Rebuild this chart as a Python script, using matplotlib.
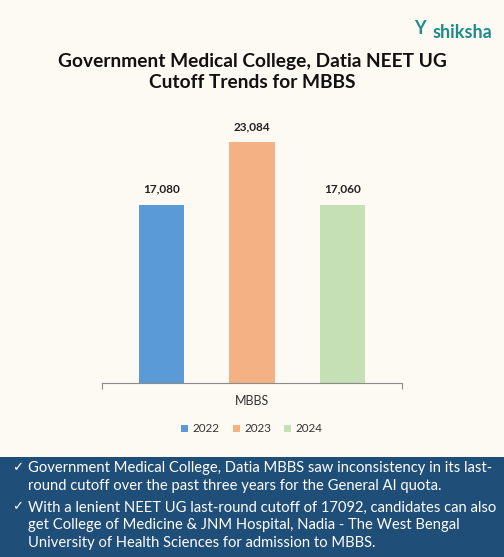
import matplotlib.pyplot as plt
from matplotlib.patches import Rectangle

plt.rcParams['font.family'] = ['Lato', 'DejaVu Sans']

jahre = ['2022', '2023', '2024']
cutoffs = [17080, 23084, 17060]
farben = ['#5B9BD5', '#F4B183', '#C5E0B4']
kategorie = 'MBBS'
titel = 'Government Medical College, Datia NEET UG\nCutoff Trends for MBBS'
hinweise = [
    'Government Medical College, Datia MBBS saw inconsistency in its last-\nround cutoff over the past three years for the General AI quota.',
    'With a lenient NEET UG last-round cutoff of 17092, candidates can also\nget College of Medicine & JNM Hospital, Nadia - The West Bengal\nUniversity of Health Sciences for admission to MBBS.',
]

hintergrund = '#FDF9F3'
fig = plt.figure(figsize=(5.04, 5.57), dpi=100, facecolor=hintergrund)

# Titel
fig.text(0.5, 1 - 72 / 557, titel, ha='center', va='center', fontsize=13.8,
         fontweight='bold', color='#111111', linespacing=1.35)

# Logo (vereinfacht)
fig.text(462 / 504, 1 - 32 / 557, 'shiksha', ha='center', va='center', fontsize=13,
         color='#1F8C8C', fontweight='bold')
fig.text(420 / 504, 1 - 28 / 557, 'Y', ha='center', va='center', fontsize=13,
         color='#1F8C8C', fontweight='bold')

ax = fig.add_axes([102 / 504, 1 - 383 / 557, 300 / 504, 273 / 557])
ax.set_facecolor(hintergrund)
positionen = range(len(cutoffs))
balken = ax.bar(positionen, cutoffs, width=0.5, color=farben, label=jahre)
for b, wert in zip(balken, cutoffs):
    ax.text(b.get_x() + b.get_width() / 2, wert + 1000, f'{wert:,}', ha='center',
            va='bottom', fontsize=8.5, fontweight='bold', color='#222222')

ax.set_xlim(-0.657, 2.657)
ax.set_ylim(0, 26200)
for s in ['top', 'right', 'left']:
    ax.spines[s].set_visible(False)
ax.spines['bottom'].set_color('#8C8C8C')
ax.set_yticks([])
ax.set_xticks([-0.657, 2.657])
ax.set_xticklabels(['', ''])
ax.tick_params(axis='x', length=4, color='#8C8C8C')
ax.text(0.5, -18 / 273, kategorie, transform=ax.transAxes, ha='center', va='center',
        fontsize=9, color='#333333')

leg = fig.legend(handles=balken, labels=jahre, loc='center', bbox_to_anchor=(0.5, 1 - 429 / 557),
                 ncol=3, frameon=False, fontsize=8.4, handlelength=0.6, handleheight=0.6,
                 columnspacing=1.1, handletextpad=0.4)
for t in leg.get_texts():
    t.set_color('#333333')

# Hinweisbox unten
fig.patches.append(Rectangle((0, 0), 1, 100 / 557, transform=fig.transFigure,
                             facecolor='#1F4E79', edgecolor='none'))
y = 1 - 461 / 557
for h in hinweise:
    zeilen = h.count('\n') + 1
    fig.text(12 / 504, y, '\u2713', ha='left', va='top', fontsize=9.5, color='white',
             family=['DejaVu Sans'])
    fig.text(28 / 504, y, h, ha='left', va='top', fontsize=10.6, color='white',
             linespacing=1.35)
    y -= zeilen * 19.8 / 557

fig.savefig('out.png', dpi=100, facecolor=hintergrund)
